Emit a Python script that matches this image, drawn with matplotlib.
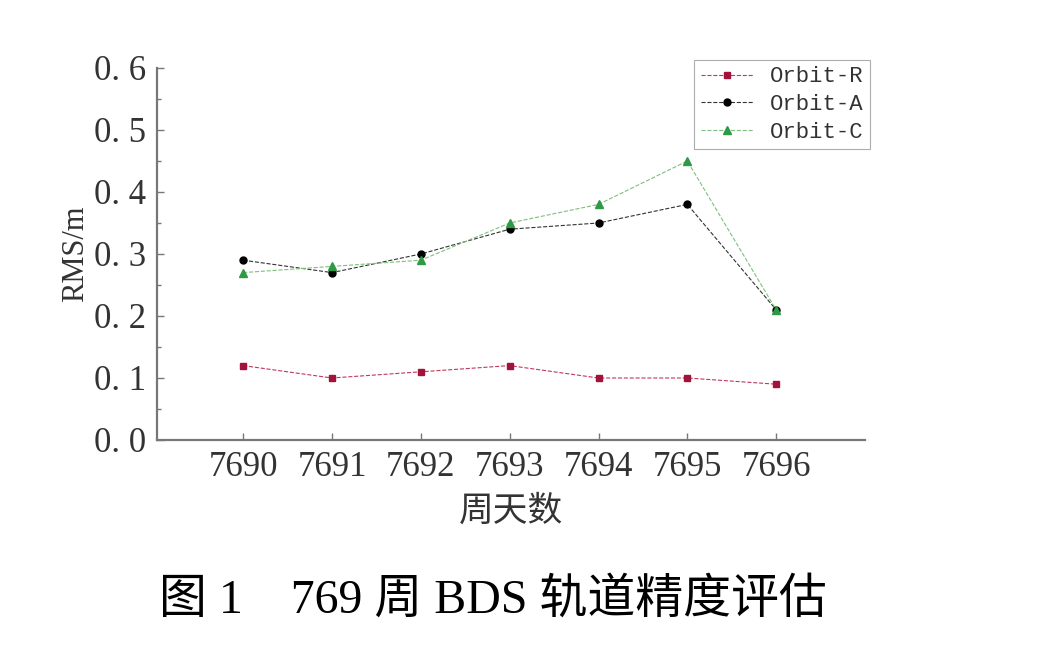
import numpy as np
import matplotlib.pyplot as plt
from matplotlib.ticker import MultipleLocator

# --- data ---
weeks = [7690, 7691, 7692, 7693, 7694, 7695, 7696]
orbit_r = [0.12, 0.10, 0.11, 0.12, 0.10, 0.10, 0.09]
orbit_a = [0.29, 0.27, 0.30, 0.34, 0.35, 0.38, 0.21]
orbit_c = [0.27, 0.28, 0.29, 0.35, 0.38, 0.45, 0.21]
y_ticks = [0.0, 0.1, 0.2, 0.3, 0.4, 0.5, 0.6]
y_tick_labels = ['0. 0', '0. 1', '0. 2', '0. 3', '0. 4', '0. 5', '0. 6']

serif = ['Liberation Serif', 'DejaVu Serif']
mono = ['Liberation Mono', 'DejaVu Sans Mono']
cjk = ['Noto Sans CJK SC', 'DejaVu Sans']
mixed = ['Liberation Serif', 'Noto Sans CJK SC', 'DejaVu Sans']

fig = plt.figure(figsize=(10.55, 6.61), dpi=100)
ax = fig.add_axes([157 / 1055, 1 - 440 / 661, (865 - 157) / 1055, (440 - 68) / 661])

ax.plot(weeks, orbit_r, ls='--', lw=0.8, color='#c0395c', marker='s', ms=5,
        mfc='#a3123a', mec='#a3123a', label='Orbit-R')
ax.plot(weeks, orbit_a, ls='--', lw=0.8, color='#333333', marker='o', ms=5,
        mfc='black', mec='black', label='Orbit-A')
ax.plot(weeks, orbit_c, ls='--', lw=0.8, color='#7fbf7f', marker='^', ms=5.5,
        mfc='#2e9a45', mec='#2e9a45', label='Orbit-C')

ax.set_xlim(7689.03, 7697.0)
ax.set_ylim(0, 0.6)
ax.set_xticks(weeks)
ax.set_xticklabels([str(w) for w in weeks], family=serif, fontsize=25, color='#333333')
ax.set_yticks(y_ticks)
ax.set_yticklabels(y_tick_labels, family=serif, fontsize=25, color='#333333')
ax.yaxis.set_minor_locator(MultipleLocator(0.05))

for side in ['top', 'right']:
    ax.spines[side].set_visible(False)
for side in ['left', 'bottom']:
    ax.spines[side].set_color('#777777')
    ax.spines[side].set_linewidth(1.6)

ax.tick_params(axis='both', which='major', direction='in', length=5, width=1, color='#777777', pad=8)
ax.tick_params(axis='y', which='minor', direction='in', length=3, width=1, color='#777777')

ax.set_ylabel('RMS/m', family=serif, fontsize=22, color='#333333', labelpad=3)
ax.set_xlabel('周天数', family=cjk, fontsize=25, color='#333333', labelpad=7)

leg = ax.legend(loc='upper right', bbox_to_anchor=(1.007, 1.022), borderaxespad=0,
                prop={'family': mono, 'size': 16}, frameon=True, fancybox=False,
                edgecolor='#999999', handlelength=2.4, borderpad=0.3,
                labelspacing=0.3, handletextpad=0.7)
leg.get_frame().set_linewidth(0.8)
for t in leg.get_texts():
    t.set_color('#333333')

fig.text(493 / 1055, 1 - 600 / 661, '图 1\u3000769 周 BDS 轨道精度评估', family=mixed,
         fontsize=34.5, ha='center', va='center', color='black')

fig.savefig('out.png', dpi=100, facecolor='white')
